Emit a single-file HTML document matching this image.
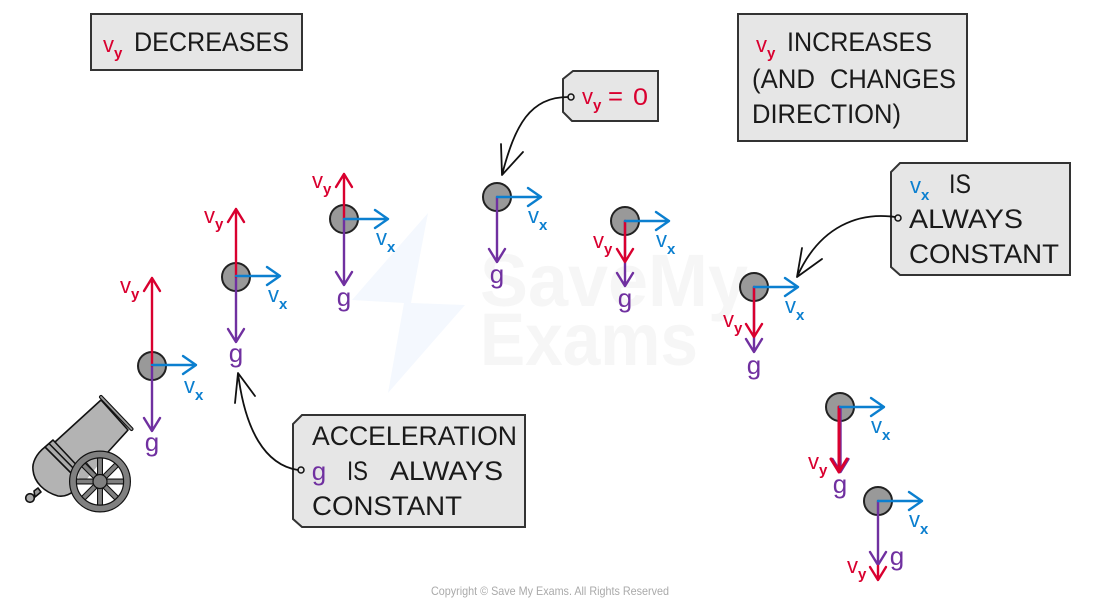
<!DOCTYPE html>
<html lang="en">
<head>
<meta charset="utf-8">
<title>Projectile motion</title>
<style>
html,body{margin:0;padding:0;background:#fff;}
svg{display:block;}
text{font-family:"Liberation Sans",sans-serif;}
.t{font-size:26.5px;fill:#1a1a1a;}
.r{fill:#d9002f;} .b{fill:#0b7fcf;} .p{fill:#7030a0;}
.v{font-size:22px;} .s{font-size:15px;font-weight:bold;}
.g{font-size:26px;fill:#7030a0;text-anchor:middle;}
.box{fill:#e6e6e6;stroke:#333;stroke-width:2;}
.ball{fill:#999;stroke:#222;stroke-width:2;}
.ln{fill:none;stroke-width:2.4;stroke-linecap:round;stroke-linejoin:round;}
.lr{stroke:#d9002f;} .lb{stroke:#0b7fcf;} .lp{stroke:#7030a0;}
.k{fill:none;stroke:#111;stroke-width:1.8;stroke-linecap:round;stroke-linejoin:round;}
</style>
</head>
<body>
<svg width="1100" height="607" viewBox="0 0 1100 607" xmlns="http://www.w3.org/2000/svg">
<rect width="1100" height="607" fill="#fff"/>

<!-- watermark -->
<polygon points="428,213 352,300 404,303 388,393 465,305 411,303" fill="#f4f8fe"/>
<text x="480" y="306" font-size="74" font-weight="bold" fill="#f6f6f6" textLength="268" lengthAdjust="spacingAndGlyphs">SaveMy</text>
<text x="480" y="365" font-size="74" font-weight="bold" fill="#f6f6f6" textLength="218" lengthAdjust="spacingAndGlyphs">Exams</text>

<!-- cannon -->
<g stroke="#111" stroke-width="1.6" stroke-linejoin="round">
  <path d="M45,447 C36,454 32,463 33,470 C34,482 44,492 58,496 C64,497 69,495 74,491 L82,470 Z" fill="#b3b3b3"/>
  <path d="M34,491 L38,488 L41,492 L35,497 Z" fill="#999"/>
  <circle cx="30" cy="498" r="4.300" fill="#aaa"/>
  <polygon points="101,400 128,430 108,452 96,472 78,476 55,442" fill="#b3b3b3"/>
  <path d="M101,397 L131.500,429" fill="none" stroke="#111" stroke-width="4" stroke-linecap="round"/>
  <path d="M101,397 L131.500,429" fill="none" stroke="#999" stroke-width="1.800" stroke-linecap="round"/>
  <polygon points="53,440 84,473 77,479 45,447" fill="#aaa"/>
  <path d="M49,443.500 L81,476" fill="none"/>
  <circle cx="100" cy="481.500" r="24" fill="#fff" stroke="none"/>
  <path d="M80,464 L98,452 L104,458 L86,480 L78,478 Z" fill="#b3b3b3" stroke="none"/>
  <path d="M84,463 L98,479" fill="none" stroke="#111" stroke-width="5"/>
  <path d="M84,463 L98,479" fill="none" stroke="#999" stroke-width="3"/>
</g>
<g fill="none">
  <g stroke="#111" stroke-width="6">
    <path d="M100,456 V507 M74.500,481.500 H125.500 M82,463.500 L118,499.500 M118,463.500 L82,499.500"/>
  </g>
  <g stroke="#808080" stroke-width="3.800">
    <path d="M100,456 V507 M74.500,481.500 H125.500 M82,463.500 L118,499.500 M118,463.500 L82,499.500"/>
  </g>
</g>
<circle cx="100" cy="481.500" r="27" fill="none" stroke="#111" stroke-width="8"/>
<circle cx="100" cy="481.500" r="27" fill="none" stroke="#808080" stroke-width="5.600"/>
<circle cx="100" cy="481.500" r="7" fill="#808080" stroke="#111" stroke-width="1.200"/>

<!-- balls -->
<circle class="ball" cx="152" cy="366" r="14"/>
<circle class="ball" cx="236" cy="277" r="14"/>
<circle class="ball" cx="344" cy="219" r="14"/>
<circle class="ball" cx="497" cy="197" r="14"/>
<circle class="ball" cx="625" cy="221" r="14"/>
<circle class="ball" cx="754" cy="287" r="14"/>
<circle class="ball" cx="840" cy="407" r="14"/>
<circle class="ball" cx="878" cy="501" r="14"/>

<!-- purple g arrows -->
<g class="ln lp">
  <path d="M152,366 V431 M144,418 L152,431 L160,418"/>
  <path d="M236,277 V342 M228,329 L236,342 L244,329"/>
  <path d="M344,219 V285 M336,272 L344,285 L352,272"/>
  <path d="M497,197 V262 M489,249 L497,262 L505,249"/>
  <path d="M625,221 V286 M617,273 L625,286 L633,273"/>
  <path d="M754,287 V352 M746,339 L754,352 L762,339"/>
  <path d="M840.500,407 V472 M832.500,459 L840.500,472 L848.500,459"/>
  <path d="M878,501 V565 M870,552 L878,565 L886,552"/>
</g>
<!-- red vy arrows -->
<g class="ln lr">
  <path d="M152,366 V278 M144,291 L152,278 L160,291"/>
  <path d="M236,277 V209 M228,222 L236,209 L244,222"/>
  <path d="M344,219 V174 M336,187 L344,174 L352,187"/>
  <path d="M625,221 V262 M617,249 L625,262 L633,249"/>
  <path d="M754,287 V337 M746,324 L754,337 L762,324"/>
  <path d="M839,407 V472 M831,459 L839,472 L847,459" style="stroke-width:3"/>
  <path d="M870,567 L878,580 L886,567 M878,566 V580"/>
</g>
<!-- blue vx arrows -->
<g class="ln lb">
  <path d="M152,365 H196 M183,356 L196,365 L183,374"/>
  <path d="M236,276 H280 M267,267 L280,276 L267,285"/>
  <path d="M344,219 H388 M375,210 L388,219 L375,228"/>
  <path d="M497,197 H541 M528,188 L541,197 L528,206"/>
  <path d="M625,221 H669 M656,212 L669,221 L656,230"/>
  <path d="M754,287 H798 M785,278 L798,287 L785,296"/>
  <path d="M840,407 H884 M871,398 L884,407 L871,416"/>
  <path d="M878,501 H922 M909,492 L922,501 L909,510"/>
</g>

<!-- vx labels -->
<g class="b">
  <text class="v" x="184" y="393">v</text><text class="s" x="195" y="400">x</text>
  <text class="v" x="268" y="302">v</text><text class="s" x="279" y="309">x</text>
  <text class="v" x="376" y="245">v</text><text class="s" x="387" y="252">x</text>
  <text class="v" x="528" y="223">v</text><text class="s" x="539" y="230">x</text>
  <text class="v" x="656" y="247">v</text><text class="s" x="667" y="254">x</text>
  <text class="v" x="785" y="313">v</text><text class="s" x="796" y="320">x</text>
  <text class="v" x="871" y="433">v</text><text class="s" x="882" y="440">x</text>
  <text class="v" x="909" y="527">v</text><text class="s" x="920" y="534">x</text>
</g>
<!-- vy labels -->
<g class="r">
  <text class="v" x="120" y="293">v</text><text class="s" x="131" y="299">y</text>
  <text class="v" x="204" y="223">v</text><text class="s" x="215" y="229">y</text>
  <text class="v" x="312" y="188">v</text><text class="s" x="323" y="194">y</text>
  <text class="v" x="593" y="248">v</text><text class="s" x="604" y="254">y</text>
  <text class="v" x="723" y="327">v</text><text class="s" x="734" y="333">y</text>
  <text class="v" x="808" y="469">v</text><text class="s" x="819" y="475">y</text>
  <text class="v" x="847" y="573">v</text><text class="s" x="858" y="579">y</text>
</g>
<!-- g labels -->
<text class="g" x="152" y="451">g</text>
<text class="g" x="236" y="362">g</text>
<text class="g" x="344" y="306">g</text>
<text class="g" x="497" y="283">g</text>
<text class="g" x="625" y="307">g</text>
<text class="g" x="754" y="374">g</text>
<text class="g" x="840" y="493">g</text>
<text class="g" x="897" y="565">g</text>

<!-- top-left box -->
<rect class="box" x="91" y="14" width="211" height="56"/>
<text class="v r" x="103" y="52">v</text><text class="s r" x="114" y="58">y</text>
<text class="t" x="134" y="51" textLength="155" lengthAdjust="spacingAndGlyphs">DECREASES</text>

<!-- top-right box -->
<rect class="box" x="738" y="14" width="229" height="127"/>
<text class="v r" x="756" y="52">v</text><text class="s r" x="767" y="58">y</text>
<text class="t" x="787" y="51" textLength="145" lengthAdjust="spacingAndGlyphs">INCREASES</text>
<text class="t" x="752" y="88" textLength="63" lengthAdjust="spacingAndGlyphs">(AND</text>
<text class="t" x="830" y="88" textLength="126" lengthAdjust="spacingAndGlyphs">CHANGES</text>
<text class="t" x="752" y="123" textLength="149" lengthAdjust="spacingAndGlyphs">DIRECTION)</text>

<!-- vy=0 tag -->
<polygon class="box" points="573,71 658,71 658,121 572,121 563,112 563,79"/>
<circle cx="571" cy="97" r="3" fill="none" stroke="#111" stroke-width="1.500"/>
<text class="v r" x="582" y="104">v</text><text class="s r" x="593" y="110">y</text>
<text class="r" x="608" y="105" font-size="26" textLength="15" lengthAdjust="spacingAndGlyphs">=</text>
<text class="r" x="633" y="105" font-size="24" textLength="15" lengthAdjust="spacingAndGlyphs">0</text>
<path class="k" d="M568,97 C530,97 515,125 502,175 M501,144 L502,175 L523,152"/>

<!-- vx tag -->
<polygon class="box" points="900,163 1070,163 1070,275 900,275 891,267 891,172"/>
<circle cx="898" cy="218" r="3" fill="none" stroke="#111" stroke-width="1.500"/>
<text class="v b" x="910" y="193">v</text><text class="s b" x="921" y="200">x</text>
<text class="t" x="949" y="193" textLength="22" lengthAdjust="spacingAndGlyphs">IS</text>
<text class="t" x="909" y="228" textLength="114" lengthAdjust="spacingAndGlyphs">ALWAYS</text>
<text class="t" x="909" y="263" textLength="150" lengthAdjust="spacingAndGlyphs">CONSTANT</text>
<path class="k" d="M895,217 C860,212 820,225 797,277 M802,248 L797,277 L822,259"/>

<!-- g tag -->
<polygon class="box" points="302,415 525,415 525,527 302,527 293,519 293,424"/>
<circle cx="301" cy="470" r="3" fill="none" stroke="#111" stroke-width="1.500"/>
<text class="t" x="312" y="445" textLength="205" lengthAdjust="spacingAndGlyphs">ACCELERATION</text>
<text class="g" x="319" y="480">g</text>
<text class="t" x="347" y="480" textLength="21" lengthAdjust="spacingAndGlyphs">IS</text>
<text class="t" x="390" y="480" textLength="113" lengthAdjust="spacingAndGlyphs">ALWAYS</text>
<text class="t" x="312" y="515" textLength="150" lengthAdjust="spacingAndGlyphs">CONSTANT</text>
<path class="k" d="M298,470 C265,465 245,430 238,373 M235,403 L238,373 L255,396"/>

<!-- copyright -->
<text x="431" y="595" font-size="12" fill="#aaa" textLength="238" lengthAdjust="spacingAndGlyphs">Copyright © Save My Exams. All Rights Reserved</text>
</svg>
</body>
</html>
